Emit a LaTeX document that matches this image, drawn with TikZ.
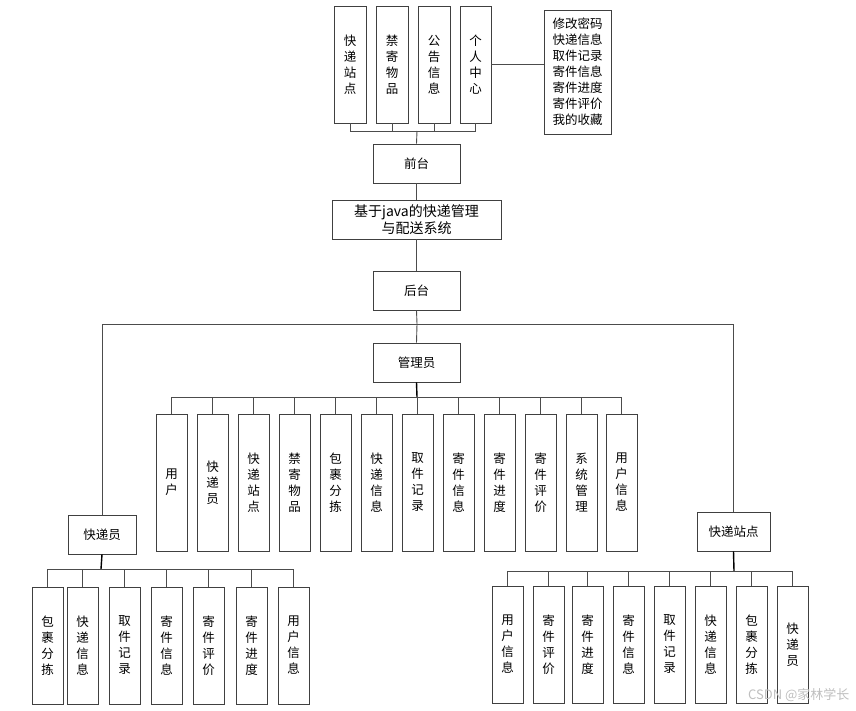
\documentclass[tikz,border=0pt]{standalone}
\usepackage{fontspec}
\setmainfont{Noto Sans CJK SC}
\begin{document}
\begin{tikzpicture}[x=1pt,y=-1pt,
  box/.style={draw=black!75,line width=0.9pt,inner sep=0pt,font=\fontsize{12.5}{16}\selectfont,align=center},
  ln/.style={draw=black!70,line width=0.9pt},
  bl/.style={draw=black,line width=1.4pt}]
\useasboundingbox (0,0) rectangle (856,711);
\newcommand\vb[6]{\node[box,minimum width=#3-#2,minimum height=#5-#4] (#1) at ({(#2+#3)/2},{(#4+#5)/2}) {#6};}
% top
\vb{t1}{334}{366}{6}{123}{快\\递\\站\\点}
\vb{t2}{376}{408}{6}{123}{禁\\寄\\物\\品}
\vb{t3}{418}{450}{6}{123}{公\\告\\信\\息}
\vb{t4}{460}{491}{6}{123}{个\\人\\中\\心}
\vb{pc}{544}{611}{10}{134}{修改密码\\快递信息\\取件记录\\寄件信息\\寄件进度\\寄件评价\\我的收藏}
\draw[ln] (t4.east) -- (t4.east -| pc.west);
\vb{qt}{373}{460}{144}{183}{前台}
\node[box,font=\fontsize{14}{17}\selectfont,minimum width=169,minimum height=39] (main) at (416.5,219.5) {基于java的快递管理\\与配送系统};
\vb{ht}{373}{460}{271}{310}{后台}
\vb{gl}{373}{460}{343}{382}{管理员}
\vb{kdy}{68}{136}{515}{554}{快递员}
\vb{zd}{697}{770}{512}{551}{快递站点}
\coordinate (tb) at (417,131);
\foreach \n in {t1,t2,t3,t4} \draw[ln] (\n.south) |- (tb);
\draw[ln] (tb) -- (qt.north);
\draw[ln] (qt.south) -- (main.north);
\draw[ln] (main.south) -- (ht.north);
\coordinate (hb) at (417,324);
\draw[ln] (ht.south) -- (hb);
\draw[ln] (hb) -- (gl.north);
\draw[ln] (hb) -| (kdy.north);
\draw[ln] (hb) -| (zd.north);
% admin children
\coordinate (gb) at (417,397);
\draw[bl] (gl.south) -- (gb);
\foreach \x/\t [count=\i] in {156/用\\户,197/快\\递\\员,238/快\\递\\站\\点,279/禁\\寄\\物\\品,320/包\\裹\\分\\拣,361/快\\递\\信\\息,402/取\\件\\记\\录,443/寄\\件\\信\\息,484/寄\\件\\进\\度,525/寄\\件\\评\\价,566/系\\统\\管\\理,606/用\\户\\信\\息}{
  \vb{a\i}{\x}{\x+31}{414}{551}{\t}
  \draw[ln] (a\i.north) |- (gb);}
% courier children
\coordinate (kb) at (101,569);
\draw[bl] (kdy.south) -- (kb);
\foreach \x/\t [count=\i] in {32/包\\裹\\分\\拣,67/快\\递\\信\\息,109/取\\件\\记\\录,151/寄\\件\\信\\息,193/寄\\件\\评\\价,236/寄\\件\\进\\度,278/用\\户\\信\\息}{
  \vb{b\i}{\x}{\x+31}{587}{704}{\t}
  \draw[ln] (b\i.north) |- (kb);}
% station children
\coordinate (zb) at (734,571);
\draw[bl] (zd.south) -- (zb);
\foreach \x/\t [count=\i] in {492/用\\户\\信\\息,533/寄\\件\\评\\价,572/寄\\件\\进\\度,613/寄\\件\\信\\息,654/取\\件\\记\\录,695/快\\递\\信\\息,736/包\\裹\\分\\拣,777/快\\递\\员}{
  \vb{c\i}{\x}{\x+31}{586}{703}{\t}
  \draw[ln] (c\i.north) |- (zb);}
\node[text=black!25,font=\fontsize{13}{14}\selectfont,anchor=east] (wm) at (853,695) {CSDN @家林学长};
\end{tikzpicture}
\end{document}
